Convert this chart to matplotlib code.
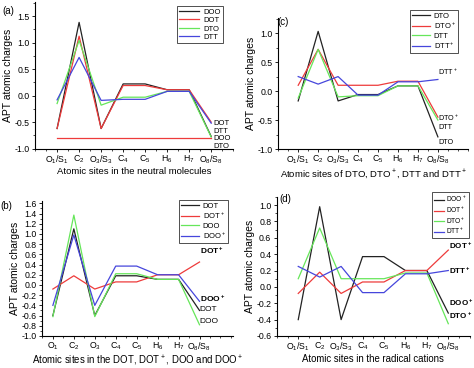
import matplotlib
matplotlib.use("Agg")
from matplotlib import pyplot as plt
from matplotlib.ticker import AutoMinorLocator, MultipleLocator

plt.rcParams["font.family"] = ["Liberation Sans", "DejaVu Sans"]
plt.rcParams["mathtext.fontset"] = "custom"
plt.rcParams["mathtext.rm"] = "Liberation Sans"
plt.rcParams["mathtext.bf"] = "Liberation Sans:bold"
plt.rcParams["mathtext.default"] = "regular"

BLACK = "#222222"
RED = "#ee3b3b"
GREEN = "#66e65a"
BLUE = "#4646dc"

sites_a = ["O$_1$/S$_1$", "C$_2$", "O$_3$/S$_3$", "C$_4$", "C$_5$", "H$_6$", "H$_7$", "O$_8$/S$_8$"]
sites_b = ["O$_1$", "C$_2$", "O$_3$", "C$_4$", "C$_5$", "H$_6$", "H$_7$", "O$_8$/S$_8$"]
xpos = [1, 2, 3, 4, 5, 6, 7, 8]

# (a) neutral molecules
doo = [-0.62, 1.38, -0.62, 0.22, 0.22, 0.11, 0.11, -0.77]
dot = [-0.62, 1.12, -0.62, 0.19, 0.19, 0.11, 0.11, -0.50]
dto = [-0.15, 1.04, -0.18, -0.03, -0.03, 0.08, 0.08, -0.78]
dtt = [-0.08, 0.72, -0.09, -0.07, -0.07, 0.08, 0.08, -0.52]
ref_a = -0.8

# (b) DOT / DOO and cations
dot_b = [-0.60, 1.10, -0.60, 0.18, 0.18, 0.11, 0.11, -0.50]
dotp = [-0.08, 0.18, -0.08, 0.06, 0.06, 0.20, 0.20, 0.45]
doo_b = [-0.62, 1.37, -0.62, 0.22, 0.22, 0.11, 0.11, -0.78]
doop = [-0.40, 0.98, -0.40, 0.37, 0.37, 0.20, 0.20, -0.32]

# (c) DTO / DTT and cations
dto_c = [-0.17, 1.03, -0.17, -0.06, -0.06, 0.09, 0.09, -0.79]
dtop = [0.10, 0.72, 0.10, 0.10, 0.10, 0.17, 0.17, -0.45]
dtt_c = [-0.12, 0.72, -0.10, -0.08, -0.08, 0.09, 0.09, -0.50]
dttp = [0.25, 0.12, 0.25, -0.07, -0.07, 0.16, 0.16, 0.20]

# (d) radical cations
doop_d = [-0.40, 0.98, -0.40, 0.37, 0.37, 0.20, 0.20, -0.32]
dotp_d = [-0.08, 0.18, -0.08, 0.06, 0.06, 0.20, 0.20, 0.45]
dtop_d = [0.10, 0.72, 0.10, 0.10, 0.10, 0.17, 0.17, -0.45]
dttp_d = [0.25, 0.12, 0.25, -0.07, -0.07, 0.16, 0.16, 0.20]

fig = plt.figure(figsize=(4.74, 3.68), dpi=100)


def setup(ax, labels, xlim, ylim, ystep, xlabel, xl_size=6.8):
    ax.set_xlim(*xlim)
    ax.set_ylim(*ylim)
    ax.set_xticks(xpos)
    ax.set_xticklabels(labels)
    ax.yaxis.set_major_locator(MultipleLocator(ystep))
    ax.yaxis.set_major_formatter(plt.FormatStrFormatter("%.1f"))
    ax.xaxis.set_minor_locator(AutoMinorLocator(2))
    ax.yaxis.set_minor_locator(AutoMinorLocator(2))
    ax.spines["top"].set_visible(False)
    ax.spines["right"].set_visible(False)
    for s in ("left", "bottom"):
        ax.spines[s].set_linewidth(0.8)
    ax.tick_params(axis="both", which="major", labelsize=6.3, length=2.5, width=0.6, pad=1.5)
    ax.tick_params(axis="x", which="major", pad=1)
    ax.tick_params(axis="both", which="minor", length=1.5, width=0.5)
    ax.set_xlabel(xlabel, fontsize=xl_size, labelpad=0.5)
    ax.set_ylabel("APT atomic charges", fontsize=7.5, labelpad=1)


def lines(ax, series, names, corner, hl=2.6, fs=5.5, tp=0.5, ls=0.15):
    for vals, name, c in zip(series, names, [BLACK, RED, GREEN, BLUE]):
        ax.plot(xpos, vals, color=c, lw=0.9, label=name)
    leg = ax.legend(loc="upper left", bbox_to_anchor=corner, bbox_transform=fig.transFigure,
                    fontsize=fs, frameon=True, fancybox=False, edgecolor="black",
                    handlelength=hl, handletextpad=tp, borderpad=0.3, labelspacing=ls,
                    borderaxespad=0)
    leg.get_frame().set_linewidth(0.6)


# panel (a)
ax = fig.add_axes([0.074, 0.596, 0.418, 0.398])
setup(ax, sites_a, (0, 9), (-1.0, 1.76), 0.5, "Atomic sites in the neutral molecules")
lines(ax, [doo, dot, dto, dtt], ["DOO", "DOT", "DTO", "DTT"], (177 / 474, 1 - 6 / 368))
ax.plot([1, 8], [ref_a, ref_a], color=RED, lw=0.9)
for txt, y in [("DOT", -0.52), ("DTT", -0.67), ("DOO", -0.80), ("DTO", -0.95)]:
    ax.text(8.1, y, txt, fontsize=5.5, va="center")
fig.text(0.006, 0.985, "(a)", fontsize=7, va="top")

# panel (c)
ax = fig.add_axes([0.587, 0.595, 0.40, 0.356])
setup(ax, sites_a, (0, 9.5), (-1.0, 1.26), 0.5, "Atomic sites of DTO, DTO$^+$, DTT and DTT$^+$")
lines(ax, [dto_c, dtop, dtt_c, dttp], ["DTO", "DTO$^+$", "DTT", "DTT$^+$"], (410 / 474, 1 - 10 / 368), 2.3)
for txt, y in [("DTT$^+$", 0.33), ("DTO$^+$", -0.46), ("DTT", -0.62), ("DTO", -0.88)]:
    ax.text(8.0, y, txt, fontsize=5.2, va="center")
fig.text(0.585, 0.94, "(c)", fontsize=7, va="center")

# panel (b)
ax = fig.add_axes([0.0886, 0.087, 0.403, 0.366])
setup(ax, sites_b, (0.48, 9.6), (-1.0, 1.64), 0.2, "Atomic sites in the DOT, DOT$^+$, DOO and DOO$^+$", 6.9)
lines(ax, [dot_b, dotp, doo_b, doop], ["DOT", "DOT$^+$", "DOO", "DOO$^+$"], (179 / 474, 1 - 200 / 368), 2.3)
ax.text(8.0, 0.66, "DOT$^+$", fontsize=6, fontweight="bold", va="center")
ax.text(8.0, -0.28, "DOO$^+$", fontsize=6, fontweight="bold", va="center")
ax.text(8.0, -0.49, "DOT", fontsize=6, va="center")
ax.text(8.0, -0.71, "DOO", fontsize=6, va="center")
fig.text(0.0, 0.44, "(b)", fontsize=7, va="center")

# panel (d)
ax = fig.add_axes([0.584, 0.087, 0.407, 0.378])
setup(ax, sites_a, (0, 9), (-0.6, 1.1), 0.2, "Atomic sites in the radical cations", 6.9)
lines(ax, [doop_d, dotp_d, dtop_d, dttp_d], ["DOO$^+$", "DOT$^+$", "DTO$^+$", "DTT$^+$"],
      (432 / 474, 1 - 192 / 368), 1.5, 4.8, 0.3, 0.05)
ax.text(8.05, 0.50, "DOT$^+$", fontsize=5.8, fontweight="bold", va="center")
ax.text(8.05, 0.19, "DTT$^+$", fontsize=5.8, fontweight="bold", va="center")
ax.text(8.05, -0.20, "DOO$^+$", fontsize=5.8, fontweight="bold", va="center")
ax.text(8.05, -0.36, "DTO$^+$", fontsize=5.8, fontweight="bold", va="center")
fig.text(0.59, 0.46, "(d)", fontsize=7, va="center")

fig.savefig("out.png", dpi=100)
